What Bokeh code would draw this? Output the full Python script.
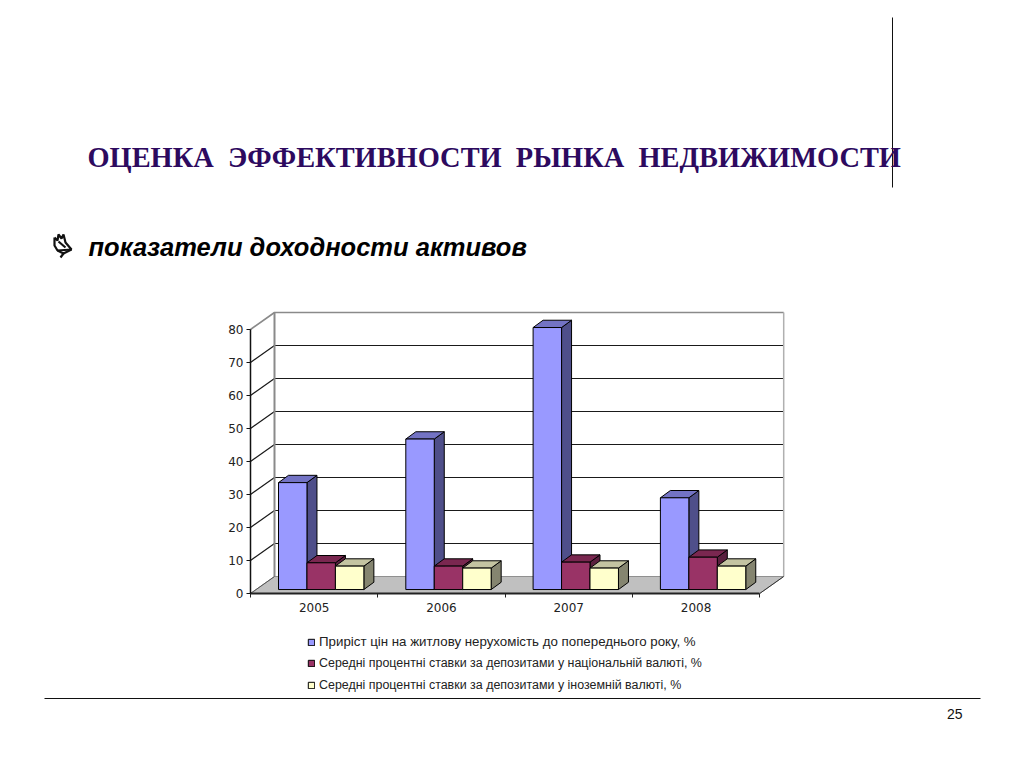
from bokeh.plotting import figure
from bokeh.models import Range1d, FixedTicker, Label, Legend, LegendItem
from bokeh.embed import file_html
from bokeh.resources import INLINE

years = ["2005", "2006", "2007", "2008"]
price_growth = [32.4, 45.6, 79.4, 27.8]
rate_national = [8.1, 7.1, 8.3, 9.8]
rate_foreign = [7.1, 6.5, 6.5, 7.1]
series_names = ["Приріст цін на житлову нерухомість до попереднього року, %",
                "Середні процентні ставки за депозитами у національній валюті, %",
                "Середні процентні ставки за депозитами у іноземній валюті, %"]
y_ticks = [0, 10, 20, 30, 40, 50, 60, 70, 80]

W, H = 1008, 752
OX, OY = 250, 593     # where category 0 / value 0 sit on the page
UX, UY = 127.3, 3.3   # px per category, px per percent

def X(px): return (px - OX) / UX
def Y(py): return (OY - py) / UY

p = figure(width=W, height=H, output_backend="svg", toolbar_location=None,
           x_range=Range1d(X(0), X(W)), y_range=Range1d(Y(H), Y(0)),
           min_border=0, min_border_left=0, min_border_right=0, min_border_top=0, min_border_bottom=0,
           background_fill_color="white", border_fill_color="white", outline_line_color=None)
p.xgrid.visible = False
p.ygrid.visible = False

DX, DY = 24 / UX, 17 / UY      # wall depth
n = len(years)

# floor
p.patch([0, DX, n + DX, n], [0, DY, DY, 0], fill_color="#c0c0c0", line_color="#909090", line_width=1)
# walls: grid lines on the back wall and the left side
gx, gy = [], []
for t in y_ticks[1:-1]:
    gx.append([0, DX, n + DX]); gy.append([t, t + DY, t + DY])
p.multi_line(gx, gy, line_color="#1a1a1a", line_width=1.2)
top = y_ticks[-1]
p.line([0, DX, n + DX], [top, top + DY, top + DY], line_color="#8a8a8a", line_width=1.6)
p.line([n + DX, n + DX], [top + DY, DY], line_color="#b0b0b0", line_width=1.5)
p.line([DX, DX], [DY, top + DY], line_color="#8a8a8a", line_width=2)
p.line([0, DX], [0, DY], line_color="#555555", line_width=1)
p.line([n, n + DX], [0, DY], line_color="#333333", line_width=1)

# 3-D bars
START, BW = 0.22, 0.2235
BASE = 1.2
BDX, BDY = 10 / UX, 7.3 / UY
colors = [("#9999ff", "#4f4f8a", "#7373c4"), ("#993366", "#5a1f3e", "#7a2750"), ("#ffffcc", "#858570", "#c4c4a2")]
items = []
for s, vals in enumerate([price_growth, rate_national, rate_foreign]):
    fx, fy, sx, sy, tx, ty = [], [], [], [], [], []
    for i, v in enumerate(vals):
        x0 = i + START + s * BW
        x1 = x0 + BW
        y1 = BASE + v
        fx.append([x0, x1, x1, x0]); fy.append([BASE, BASE, y1, y1])
        sx.append([x1, x1 + BDX, x1 + BDX, x1]); sy.append([BASE, BASE + BDY, y1 + BDY, y1])
        tx.append([x0, x0 + BDX, x1 + BDX, x1]); ty.append([y1, y1 + BDY, y1 + BDY, y1])
    front, side, topc = colors[s]
    p.patches(sx, sy, fill_color=side, line_color="black", line_width=1)
    p.patches(tx, ty, fill_color=topc, line_color="black", line_width=1)
    r = p.patches(fx, fy, fill_color=front, line_color="black", line_width=1)
    items.append(LegendItem(label=series_names[s], renderers=[r]))

# axes
xa = p.xaxis[0]
centers = [i + 0.5 for i in range(n)]
xa.fixed_location = 0
xa.ticker = FixedTicker(ticks=centers, minor_ticks=list(range(n + 1)))
xa.major_label_overrides = {c: y for c, y in zip(centers, years)}
xa.bounds = (0, n)
xa.major_tick_line_color = None
xa.minor_tick_out = 4
xa.minor_tick_in = 0
xa.minor_tick_line_color = "#222222"
xa.axis_line_color = "#222222"
xa.axis_line_width = 2
xa.major_label_text_font = "DejaVu Sans"
xa.major_label_text_font_size = "12px"
xa.major_label_text_color = "#222222"
xa.major_label_standoff = 3

ya = p.yaxis[0]
ya.fixed_location = 0
ya.ticker = FixedTicker(ticks=y_ticks)
ya.bounds = (0, 80)
ya.minor_tick_line_color = None
ya.major_tick_out = 4
ya.major_tick_in = 0
ya.axis_line_color = "#111111"
ya.axis_line_width = 1.5
ya.major_tick_line_color = "#111111"
ya.major_label_text_font = "DejaVu Sans"
ya.major_label_text_font_size = "12px"
ya.major_label_text_color = "#222222"
ya.major_label_standoff = 3

# one legend per row: the rows differ slightly in set width in the reference
for item, row_y, size in zip(items, [641, 662, 684], ["13.3px", "12.45px", "12.45px"]):
    p.add_layout(Legend(items=[item], location=(307, H - (row_y + 8)), orientation="vertical",
                        background_fill_alpha=0, border_line_color=None, margin=0, padding=0,
                        glyph_width=8, glyph_height=8, label_height=13, label_standoff=4, spacing=0,
                        label_text_font="Liberation Sans", label_text_font_size=size,
                        label_text_color="#222222"), "center")

NB = "\u00a0\u00a0"
p.add_layout(Label(x=X(87), y=Y(157), text=f"ОЦЕНКА{NB}ЭФФЕКТИВНОСТИ{NB}РЫНКА{NB}НЕДВИЖИМОСТИ",
                   text_font="Liberation Serif", text_font_style="bold", text_font_size="28.4px",
                   text_color="#2d0a5f", text_baseline="middle"))
p.add_layout(Label(x=X(88), y=Y(246.5), text="показатели доходности активов",
                   text_font="Liberation Sans", text_font_style="bold italic", text_font_size="25.5px",
                   text_color="#000000", text_baseline="middle"))
p.add_layout(Label(x=X(962), y=Y(713), text="25",
                   text_font="Liberation Sans", text_font_size="14px", text_color="#111111",
                   text_align="right", text_baseline="middle"))

def stroke(pts, width=1.0, color="#111111"):
    p.line([X(a) for a, b in pts], [Y(b) for a, b in pts], line_color=color, line_width=width)

stroke([(44, 698), (980, 698)], 1)
stroke([(892, 17), (892, 187)], 1)
# bullet glyph
stroke([(54, 237), (54, 245), (57, 250), (71, 249), (65, 242), (63, 234), (61, 238), (58, 234), (57, 240), (54, 237)], 2.2)
stroke([(57, 250), (63, 253), (71, 249)], 2.2)
stroke([(63, 253), (60, 257)], 2.2)
stroke([(58, 241), (65, 247)], 2.2)

open("out.html", "w").write(file_html(p, INLINE))
